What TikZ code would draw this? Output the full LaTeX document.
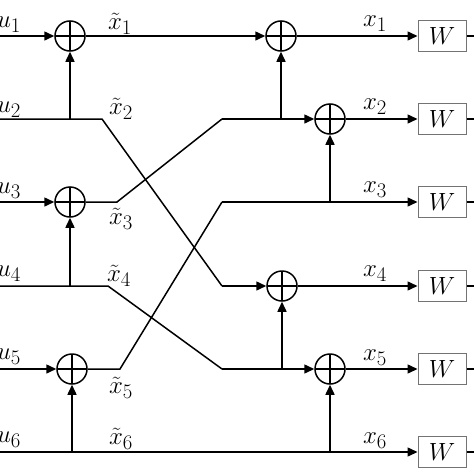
\documentclass[tikz,border=0pt]{standalone}
\usetikzlibrary{arrows.meta}
\begin{document}
\begin{tikzpicture}[x=1pt,y=-1pt,
  wire/.style={line width=1.5pt},
  arr/.style={wire,-{Triangle[length=10pt,width=9pt]}},
  adder/.style={circle,draw,line width=1.5pt,minimum size=30pt,inner sep=0pt,
     path picture={\draw[line width=1.3pt] (path picture bounding box.north)--(path picture bounding box.south) (path picture bounding box.west)--(path picture bounding box.east);}},
  wbox/.style={draw=black!55,line width=1pt,minimum width=48pt,minimum height=31pt,inner sep=0pt,font=\fontsize{24.88}{30}\selectfont},
  lbl/.style={font=\fontsize{24.88}{30}\selectfont,inner sep=0pt}]
\useasboundingbox (0,0) rectangle (474,474);
% inputs and outputs
\foreach \i/\y in {1/36,2/119,3/202,4/286,5/369,6/452}{
  \coordinate (i\i) at (-2,\y);
  \coordinate (e\i) at (476,\y);
  \node[wbox] (w\i) at (442,\y) {$W$};
}
% adders
\node[adder] (a11) at (70,36) {};
\node[adder] (a31) at (70,202) {};
\node[adder] (a51) at (72,369) {};
\node[adder] (a12) at (281,36) {};
\node[adder] (a22) at (330,119) {};
\node[adder] (a42) at (282,286) {};
\node[adder] (a52) at (330,369) {};
% bends and junctions
\coordinate (b2) at (102,119); \coordinate (c2) at (222,286);
\coordinate (b3) at (117,202); \coordinate (c3) at (222,119);
\coordinate (b4) at (108,286); \coordinate (c4) at (222,369);
\coordinate (b5) at (120,369); \coordinate (c5) at (222,202);
\coordinate (j2) at (70,119);
\coordinate (j4) at (70,286);
\coordinate (j3) at (281,119);
\coordinate (j5) at (282,369);
\coordinate (j7) at (330,202);
\coordinate (j6a) at (72,452);
\coordinate (j6b) at (330,452);
% row 1
\draw[arr] (i1) -- (a11);
\draw[arr] (a11) -- (a12);
\draw[arr] (a12) -- (w1);
% row 2
\draw[wire] (i2) -- (b2) -- (c2);
\draw[arr] (c2) -- (a42);
\draw[arr] (j2) -- (a11);
% row 3
\draw[arr] (i3) -- (a31);
\draw[wire] (a31) -- (b3) -- (c3);
\draw[arr] (c3) -- (a22);
\draw[arr] (j3) -- (a12);
% row 4
\draw[wire] (i4) -- (b4) -- (c4);
\draw[arr] (c4) -- (a52);
\draw[arr] (j4) -- (a31);
\draw[arr] (j5) -- (a42);
% row 5
\draw[arr] (i5) -- (a51);
\draw[wire] (a51) -- (b5) -- (c5);
\draw[arr] (c5) -- (w3);
\draw[arr] (j7) -- (a22);
% row 6
\draw[arr] (i6) -- (w6);
\draw[arr] (j6a) -- (a51);
\draw[arr] (j6b) -- (a52);
% outputs
\draw[arr] (a22) -- (w2);
\draw[arr] (a42) -- (w4);
\draw[arr] (a52) -- (w5);
\foreach \i in {1,...,6}{\draw[wire] (w\i) -- (e\i);}
% labels
\node[lbl] (lu1) at (9,25) {$u_1$};
\node[lbl] (lu2) at (9,110) {$u_2$};
\node[lbl] (lu3) at (9,191) {$u_3$};
\node[lbl] (lu4) at (9,274) {$u_4$};
\node[lbl] (lu5) at (9,357) {$u_5$};
\node[lbl] (lu6) at (9,440) {$u_6$};
\node[lbl] (lt1) at (120,24) {$\tilde{x}_1$};
\node[lbl] (lt2) at (121,109) {$\tilde{x}_2$};
\node[lbl] (lt3) at (121,219) {$\tilde{x}_3$};
\node[lbl] (lt4) at (119,276) {$\tilde{x}_4$};
\node[lbl] (lt5) at (121,388) {$\tilde{x}_5$};
\node[lbl] (lt6) at (121,439) {$\tilde{x}_6$};
\node[lbl] (lx1) at (375,24) {$x_1$};
\node[lbl] (lx2) at (375,107) {$x_2$};
\node[lbl] (lx3) at (375,190) {$x_3$};
\node[lbl] (lx4) at (375,274) {$x_4$};
\node[lbl] (lx5) at (375,358) {$x_5$};
\node[lbl] (lx6) at (375,441) {$x_6$};
\end{tikzpicture}
\end{document}
